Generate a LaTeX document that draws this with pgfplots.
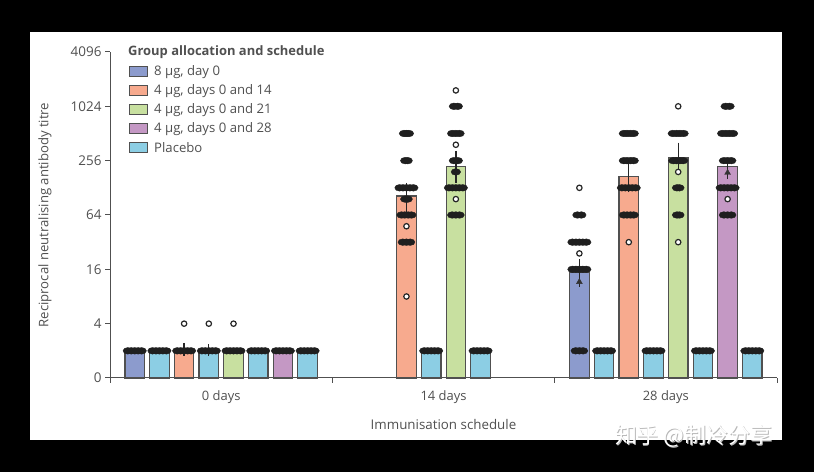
\documentclass[border=0pt]{standalone}
\usepackage{fontspec}
\setmainfont{Open Sans}
\newfontfamily\cjk{Noto Sans CJK SC}
\usepackage{pgfplots}
\pgfplotsset{compat=1.18}
\definecolor{txt}{RGB}{80,80,80}
\definecolor{edge}{RGB}{80,80,80}
\definecolor{cA}{RGB}{140,155,205}
\definecolor{cB}{RGB}{247,170,142}
\definecolor{cC}{RGB}{200,224,160}
\definecolor{cD}{RGB}{196,152,196}
\definecolor{cP}{RGB}{140,206,228}
\begin{document}
\begin{tikzpicture}[x=1bp,y=1bp]
\fill[black] (0,0) rectangle (814,472);
\fill[white] (30,32) rectangle (782,440);
\begin{axis}[
  at={(110bp,94bp)}, anchor=south west,
  scale only axis, width=667bp, height=326bp,
  xmin=0, xmax=27, ymin=1, ymax=4096,
  ymode=log, log basis y=2,
  axis x line*=bottom, axis y line*=left,
  axis line style={draw=txt, line width=1bp},
  ytick={1,4,16,64,256,1024,4096},
  yticklabels={0,4,16,64,256,1024,4096},
  yticklabel style={font=\fontsize{13.5}{15}\selectfont, text=txt},
  xtick={0,9,18,27}, xticklabels={},
  extra x ticks={4.5,13.5,22.5},
  extra x tick labels={0 days,14 days,28 days},
  extra x tick style={major tick length=0pt, xticklabel style={font=\fontsize{13}{15}\selectfont, text=txt, yshift=-9bp}},
  tick align=outside, major tick length=5bp,
  tick style={draw=txt, line width=1bp},
  minor tick num=0,
  xlabel={Immunisation schedule},
  xlabel style={at={(axis description cs:0.5,-0.144)}, anchor=center, font=\fontsize{13.4}{15}\selectfont, text=txt},
  ylabel={Reciprocal neutralising antibody titre},
  ylabel style={at={(axis description cs:-0.0975,0.5)}, anchor=center, font=\fontsize{13.2}{15}\selectfont, text=txt},
  clip=false,
]
% bars
\addplot[ybar, bar width=19.5bp, bar shift=0pt, fill=cA, draw=edge, line width=1.2bp] coordinates {(1,2) (19,14.7)};
\addplot[ybar, bar width=19.5bp, bar shift=0pt, fill=cB, draw=edge, line width=1.2bp] coordinates {(3,2) (12,104) (21,170)};
\addplot[ybar, bar width=19.5bp, bar shift=0pt, fill=cC, draw=edge, line width=1.2bp] coordinates {(5,2) (14,219) (23,278)};
\addplot[ybar, bar width=19.5bp, bar shift=0pt, fill=cD, draw=edge, line width=1.2bp] coordinates {(7,2) (25,219)};
\addplot[ybar, bar width=19.5bp, bar shift=0pt, fill=cP, draw=edge, line width=1.2bp] coordinates {(2,2) (4,2) (6,2) (8,2) (13,2) (15,2) (20,2) (22,2) (24,2) (26,2)};
% error bars
\addplot[draw=none, mark=none, error bars/.cd, y dir=both, y explicit,
  error bar style={draw=black!85, solid, line width=1.3bp},
  error mark options={draw=black!85, line width=1.3bp, mark size=5bp}]
  coordinates {(3,2) += (0,0.15) -= (0,0) (4,2) += (0,0.07) -= (0,0)
  (12,104) += (0,24) -= (0,26) (14,219) += (0,71) -= (0,54)
  (19,14.7) += (0,3.7) -= (0,3.0) (21,170) += (0,53) -= (0,40)
  (23,278) += (0,78) -= (0,61) (25,219) += (0,20) -= (0,38)};
% clustered (overlapping) individual values
\addplot[only marks, mark=*, mark size=3.3bp, mark options={fill=black!88, draw=black!88, xscale=1.45}] table {
x y
0.72 2
0.86 2
1 2
1.14 2
1.28 2
1.72 2
1.86 2
2 2
2.14 2
2.28 2
2.72 2
2.86 2
3 2
3.14 2
3.28 2
3.72 2
3.86 2
4 2
4.14 2
4.28 2
4.72 2
4.86 2
5 2
5.14 2
5.28 2
5.72 2
5.86 2
6 2
6.14 2
6.28 2
6.72 2
6.86 2
7 2
7.14 2
7.28 2
7.72 2
7.86 2
8 2
8.14 2
8.28 2
12.72 2
12.86 2
13 2
13.14 2
13.28 2
14.72 2
14.86 2
15 2
15.14 2
15.28 2
19.72 2
19.86 2
20 2
20.14 2
20.28 2
21.72 2
21.86 2
22 2
22.14 2
22.28 2
23.72 2
23.86 2
24 2
24.14 2
24.28 2
25.72 2
25.86 2
26 2
26.14 2
26.28 2
11.9 512
12 512
12.1 512
11.95 256
12.05 256
11.72 128
11.86 128
12 128
12.14 128
12.28 128
11.95 96
12.05 96
11.8 64
11.93 64
12.07 64
12.2 64
11.85 32
12 32
12.15 32
13.92 1024
14.08 1024
13.85 512
14 512
14.15 512
13.92 256
14.08 256
14 192
13.72 128
13.86 128
14 128
14.14 128
14.28 128
13.85 64
14 64
14.15 64
18.92 64
19.08 64
18.72 32
18.86 32
19 32
19.14 32
19.28 32
18.72 16
18.86 16
19 16
19.14 16
19.28 16
18.85 2
19 2
19.15 2
20.8 512
20.93 512
21.07 512
21.2 512
20.8 256
20.93 256
21.07 256
21.2 256
20.72 128
20.86 128
21 128
21.14 128
21.28 128
20.8 64
20.93 64
21.07 64
21.2 64
22.78 512
22.93 512
23.07 512
23.22 512
22.8 256
22.93 256
23.07 256
23.2 256
22.95 128
23.05 128
22.95 64
23.05 64
24.92 1024
25.08 1024
24.78 512
24.93 512
25.07 512
25.22 512
24.85 256
25 256
25.15 256
24.72 128
24.86 128
25 128
25.14 128
25.28 128
24.85 64
25 64
25.15 64
};
% single individual values
\addplot[only marks, mark=*, mark size=2.7bp, mark options={fill=white, draw=black!85, line width=1.2bp}] table {
x y
3 4
4 4
5 4
12 48
12 8
14 1536
14 384
14 96
19 128
19 24
21 32
23 1024
23 192
23 32
25 96
};
% triangle markers
\addplot[only marks, mark=triangle*, mark size=3.4bp, mark options={fill=black!80, draw=black!80}] table {
x y
19 11.6
25 188
};
\end{axis}
% legend
\node[anchor=west, inner sep=0, text=txt, font=\bfseries\fontsize{13}{15}\selectfont] at (128,420) {Group allocation and schedule};
\filldraw[fill=cA, draw=edge, line width=1bp] (129,395) rectangle (147,405);
\node[anchor=west, inner sep=0, text=txt, font=\fontsize{13.2}{15}\selectfont] at (154,400) {8 µg, day 0};
\filldraw[fill=cB, draw=edge, line width=1bp] (129,376) rectangle (147,386);
\node[anchor=west, inner sep=0, text=txt, font=\fontsize{13.2}{15}\selectfont] at (154,381) {4 µg, days 0 and 14};
\filldraw[fill=cC, draw=edge, line width=1bp] (129,357) rectangle (147,367);
\node[anchor=west, inner sep=0, text=txt, font=\fontsize{13.2}{15}\selectfont] at (154,362) {4 µg, days 0 and 21};
\filldraw[fill=cD, draw=edge, line width=1bp] (129,338) rectangle (147,348);
\node[anchor=west, inner sep=0, text=txt, font=\fontsize{13.2}{15}\selectfont] at (154,343) {4 µg, days 0 and 28};
\filldraw[fill=cP, draw=edge, line width=1bp] (129,319) rectangle (147,329);
\node[anchor=west, inner sep=0, text=txt, font=\fontsize{13.2}{15}\selectfont] at (154,324) {Placebo};
% watermark
\node[anchor=west, inner sep=0, text=gray!55, font=\cjk\fontsize{22}{24}\selectfont] at (615.8,35.2) {知乎 @制冷分享};
\node[anchor=west, inner sep=0, text=white, font=\cjk\fontsize{22}{24}\selectfont] at (615,36) {知乎 @制冷分享};
\end{tikzpicture}
\end{document}
